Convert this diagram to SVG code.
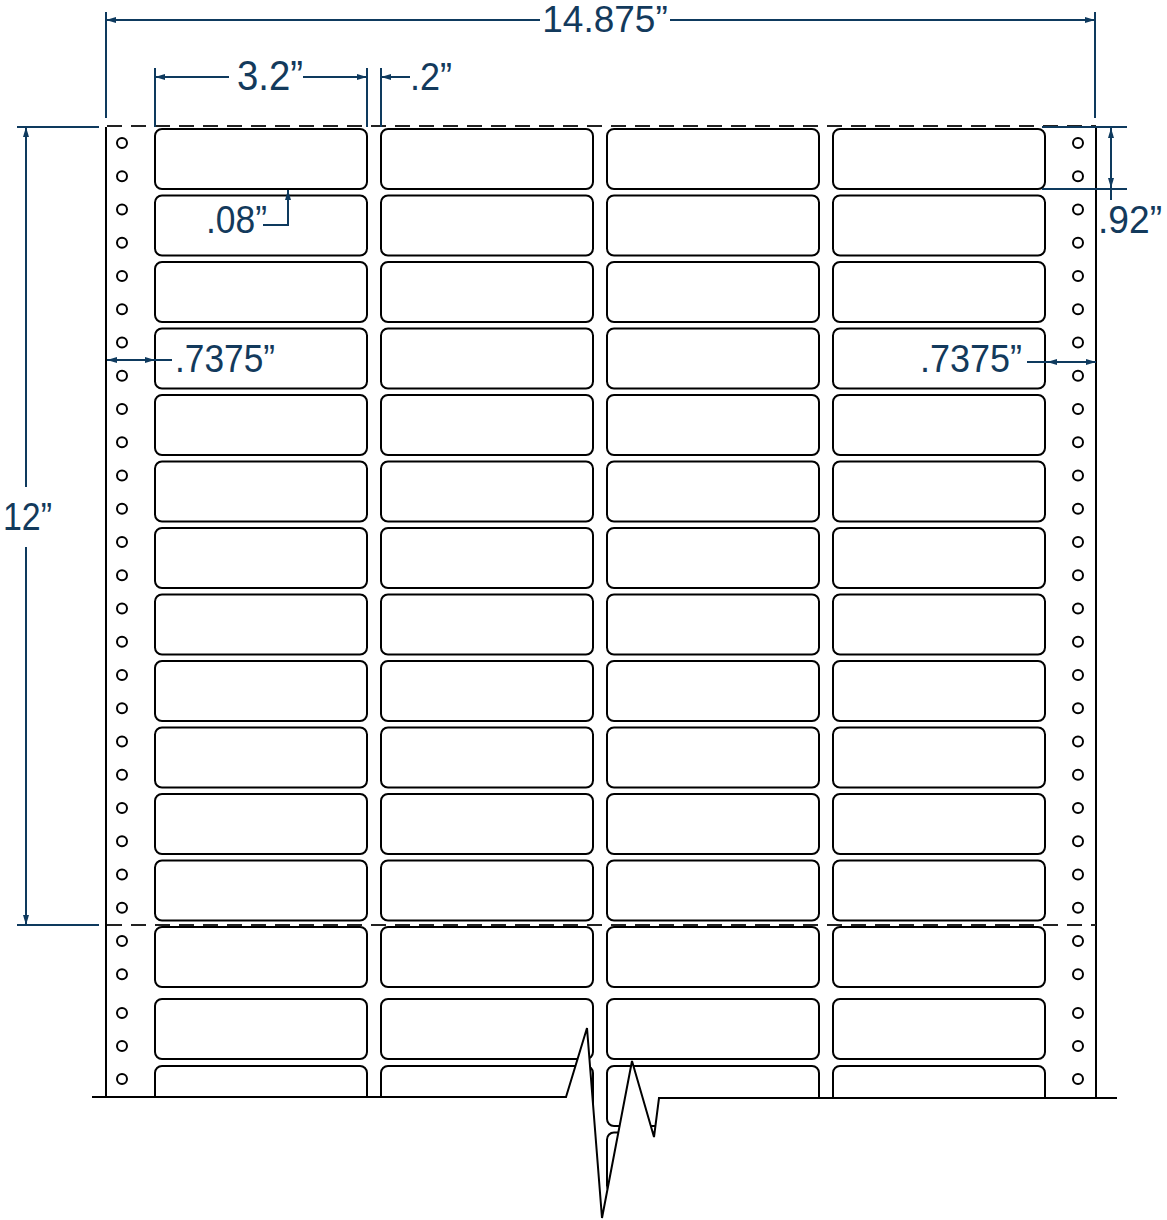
<svg xmlns="http://www.w3.org/2000/svg" xmlns:xlink="http://www.w3.org/1999/xlink" width="1167" height="1220" viewBox="0 0 1167 1220">
<style>
.lbl{fill:none;stroke:#000;stroke-width:2}
.hole{fill:#fff;stroke:#000;stroke-width:2}
.edge{fill:none;stroke:#000;stroke-width:2}
.dash{fill:none;stroke:#222;stroke-width:2;stroke-dasharray:15 9}
.dim{fill:none;stroke:#0e3a5e;stroke-width:2}
.arr{marker-end:url(#ah)}
.t{font-family:"Liberation Sans",Arial,sans-serif;fill:#133a5c}
</style>
<defs>
<marker id="ah" markerUnits="userSpaceOnUse" markerWidth="10" markerHeight="6" refX="10" refY="3" orient="auto">
<path d="M0,0 L10,3 L0,6 z" fill="#0e3a5e"/>
</marker>
<clipPath id="paper">
<polygon points="0,0 1167,0 1167,1098 659,1098 654,1137 632,1061 602,1218 587,1028 566,1097 0,1097"/>
</clipPath>
<rect id="L" width="212" height="60" rx="7" ry="7" class="lbl"/>
<circle id="H" r="5" class="hole"/>
</defs>
<rect width="1167" height="1220" fill="#fff"/>

<g id="sheet" clip-path="url(#paper)">
<g id="labels">
<g id="col1">
<use xlink:href="#L" x="155" y="129"/><use xlink:href="#L" x="155" y="195.5"/><use xlink:href="#L" x="155" y="262"/><use xlink:href="#L" x="155" y="328.5"/>
<use xlink:href="#L" x="155" y="395"/><use xlink:href="#L" x="155" y="461.5"/><use xlink:href="#L" x="155" y="528"/><use xlink:href="#L" x="155" y="594.5"/>
<use xlink:href="#L" x="155" y="661"/><use xlink:href="#L" x="155" y="727.5"/><use xlink:href="#L" x="155" y="794"/><use xlink:href="#L" x="155" y="860.5"/>
<use xlink:href="#L" x="155" y="927"/><use xlink:href="#L" x="155" y="999"/><use xlink:href="#L" x="155" y="1066"/><use xlink:href="#L" x="155" y="1132.5"/>
</g>
<g id="col2">
<use xlink:href="#L" x="381" y="129"/><use xlink:href="#L" x="381" y="195.5"/><use xlink:href="#L" x="381" y="262"/><use xlink:href="#L" x="381" y="328.5"/>
<use xlink:href="#L" x="381" y="395"/><use xlink:href="#L" x="381" y="461.5"/><use xlink:href="#L" x="381" y="528"/><use xlink:href="#L" x="381" y="594.5"/>
<use xlink:href="#L" x="381" y="661"/><use xlink:href="#L" x="381" y="727.5"/><use xlink:href="#L" x="381" y="794"/><use xlink:href="#L" x="381" y="860.5"/>
<use xlink:href="#L" x="381" y="927"/><use xlink:href="#L" x="381" y="999"/><use xlink:href="#L" x="381" y="1066"/><use xlink:href="#L" x="381" y="1132.5"/>
</g>
<g id="col3">
<use xlink:href="#L" x="607" y="129"/><use xlink:href="#L" x="607" y="195.5"/><use xlink:href="#L" x="607" y="262"/><use xlink:href="#L" x="607" y="328.5"/>
<use xlink:href="#L" x="607" y="395"/><use xlink:href="#L" x="607" y="461.5"/><use xlink:href="#L" x="607" y="528"/><use xlink:href="#L" x="607" y="594.5"/>
<use xlink:href="#L" x="607" y="661"/><use xlink:href="#L" x="607" y="727.5"/><use xlink:href="#L" x="607" y="794"/><use xlink:href="#L" x="607" y="860.5"/>
<use xlink:href="#L" x="607" y="927"/><use xlink:href="#L" x="607" y="999"/><use xlink:href="#L" x="607" y="1066"/><use xlink:href="#L" x="607" y="1132.5"/>
</g>
<g id="col4">
<use xlink:href="#L" x="833" y="129"/><use xlink:href="#L" x="833" y="195.5"/><use xlink:href="#L" x="833" y="262"/><use xlink:href="#L" x="833" y="328.5"/>
<use xlink:href="#L" x="833" y="395"/><use xlink:href="#L" x="833" y="461.5"/><use xlink:href="#L" x="833" y="528"/><use xlink:href="#L" x="833" y="594.5"/>
<use xlink:href="#L" x="833" y="661"/><use xlink:href="#L" x="833" y="727.5"/><use xlink:href="#L" x="833" y="794"/><use xlink:href="#L" x="833" y="860.5"/>
<use xlink:href="#L" x="833" y="927"/><use xlink:href="#L" x="833" y="999"/><use xlink:href="#L" x="833" y="1066"/><use xlink:href="#L" x="833" y="1132.5"/>
</g>
</g>
<g id="holes">
<g id="holes-left">
<use xlink:href="#H" x="122" y="143"/><use xlink:href="#H" x="122" y="176.25"/><use xlink:href="#H" x="122" y="209.5"/><use xlink:href="#H" x="122" y="242.75"/>
<use xlink:href="#H" x="122" y="276"/><use xlink:href="#H" x="122" y="309.25"/><use xlink:href="#H" x="122" y="342.5"/><use xlink:href="#H" x="122" y="375.75"/>
<use xlink:href="#H" x="122" y="409"/><use xlink:href="#H" x="122" y="442.25"/><use xlink:href="#H" x="122" y="475.5"/><use xlink:href="#H" x="122" y="508.75"/>
<use xlink:href="#H" x="122" y="542"/><use xlink:href="#H" x="122" y="575.25"/><use xlink:href="#H" x="122" y="608.5"/><use xlink:href="#H" x="122" y="641.75"/>
<use xlink:href="#H" x="122" y="675"/><use xlink:href="#H" x="122" y="708.25"/><use xlink:href="#H" x="122" y="741.5"/><use xlink:href="#H" x="122" y="774.75"/>
<use xlink:href="#H" x="122" y="808"/><use xlink:href="#H" x="122" y="841.25"/><use xlink:href="#H" x="122" y="874.5"/><use xlink:href="#H" x="122" y="907.75"/>
<use xlink:href="#H" x="122" y="941"/><use xlink:href="#H" x="122" y="974.25"/><use xlink:href="#H" x="122" y="1013"/><use xlink:href="#H" x="122" y="1046"/>
<use xlink:href="#H" x="122" y="1079"/>
</g>
<g id="holes-right">
<use xlink:href="#H" x="1078" y="143"/><use xlink:href="#H" x="1078" y="176.25"/><use xlink:href="#H" x="1078" y="209.5"/><use xlink:href="#H" x="1078" y="242.75"/>
<use xlink:href="#H" x="1078" y="276"/><use xlink:href="#H" x="1078" y="309.25"/><use xlink:href="#H" x="1078" y="342.5"/><use xlink:href="#H" x="1078" y="375.75"/>
<use xlink:href="#H" x="1078" y="409"/><use xlink:href="#H" x="1078" y="442.25"/><use xlink:href="#H" x="1078" y="475.5"/><use xlink:href="#H" x="1078" y="508.75"/>
<use xlink:href="#H" x="1078" y="542"/><use xlink:href="#H" x="1078" y="575.25"/><use xlink:href="#H" x="1078" y="608.5"/><use xlink:href="#H" x="1078" y="641.75"/>
<use xlink:href="#H" x="1078" y="675"/><use xlink:href="#H" x="1078" y="708.25"/><use xlink:href="#H" x="1078" y="741.5"/><use xlink:href="#H" x="1078" y="774.75"/>
<use xlink:href="#H" x="1078" y="808"/><use xlink:href="#H" x="1078" y="841.25"/><use xlink:href="#H" x="1078" y="874.5"/><use xlink:href="#H" x="1078" y="907.75"/>
<use xlink:href="#H" x="1078" y="941"/><use xlink:href="#H" x="1078" y="974.25"/><use xlink:href="#H" x="1078" y="1013"/><use xlink:href="#H" x="1078" y="1046"/>
<use xlink:href="#H" x="1078" y="1079"/>
</g>
</g>
<line class="edge" x1="106" y1="127" x2="106" y2="1100"/>
<line class="edge" x1="1096" y1="127" x2="1096" y2="1100"/>
<line class="dash" x1="107" y1="126" x2="1096" y2="126"/>
<line class="dash" x1="107" y1="925" x2="1096" y2="925"/>
</g>
<polyline id="tear" class="edge" points="92,1097 566,1097 587,1028 602,1218 632,1061 654,1137 659,1098 1117,1098"/>

<g id="dimensions">
<!-- 14.875 -->
<line class="dim" x1="106" y1="12" x2="106" y2="118"/>
<line class="dim" x1="1095" y1="12" x2="1095" y2="118"/>
<line class="dim arr" x1="540" y1="20" x2="106" y2="20"/>
<line class="dim arr" x1="670" y1="20" x2="1095" y2="20"/>
<text class="t" x="605" y="32" font-size="37" text-anchor="middle">14.875”</text>
<!-- 3.2 -->
<line class="dim" x1="155" y1="68" x2="155" y2="127"/>
<line class="dim" x1="367" y1="68" x2="367" y2="127"/>
<line class="dim arr" x1="229" y1="77" x2="155" y2="77"/>
<line class="dim arr" x1="303" y1="77" x2="367" y2="77"/>
<text class="t" x="237" y="90" font-size="42" textLength="66" lengthAdjust="spacingAndGlyphs">3.2”</text>
<!-- .2 -->
<line class="dim" x1="381" y1="68" x2="381" y2="127"/>
<line class="dim arr" x1="410" y1="77" x2="381" y2="77"/>
<text class="t" x="410" y="90" font-size="38" textLength="42" lengthAdjust="spacingAndGlyphs">.2”</text>
<!-- 12 -->
<line class="dim" x1="17" y1="127" x2="99" y2="127"/>
<line class="dim" x1="17" y1="925" x2="99" y2="925"/>
<line class="dim arr" x1="26" y1="487" x2="26" y2="127"/>
<line class="dim arr" x1="26" y1="547" x2="26" y2="925"/>
<text class="t" x="3" y="530" font-size="39" textLength="49" lengthAdjust="spacingAndGlyphs">12”</text>
<!-- .92 -->
<line class="dim" x1="1042" y1="127" x2="1127" y2="127"/>
<line class="dim" x1="1042" y1="189" x2="1127" y2="189"/>
<line class="dim arr" x1="1111" y1="158" x2="1111" y2="128"/>
<line class="dim arr" x1="1111" y1="158" x2="1111" y2="188"/>
<line class="dim" x1="1111" y1="188" x2="1111" y2="200"/>
<text class="t" x="1098" y="233" font-size="39" textLength="64" lengthAdjust="spacingAndGlyphs">.92”</text>
<!-- .08 -->
<polyline class="dim arr" points="263,225 288,225 288,190"/>
<text class="t" x="206" y="233" font-size="38" textLength="61" lengthAdjust="spacingAndGlyphs">.08”</text>
<!-- .7375 left -->
<line class="dim arr" x1="131" y1="360" x2="107" y2="360"/>
<line class="dim arr" x1="131" y1="360" x2="155" y2="360"/>
<line class="dim" x1="155" y1="360" x2="172" y2="360"/>
<text class="t" x="175" y="372" font-size="38" textLength="100" lengthAdjust="spacingAndGlyphs">.7375”</text>
<!-- .7375 right -->
<line class="dim" x1="1027" y1="362" x2="1047" y2="362"/>
<line class="dim arr" x1="1071" y1="362" x2="1047" y2="362"/>
<line class="dim arr" x1="1071" y1="362" x2="1096" y2="362"/>
<text class="t" x="920" y="372" font-size="38" textLength="102" lengthAdjust="spacingAndGlyphs">.7375”</text>
</g>
</svg>
